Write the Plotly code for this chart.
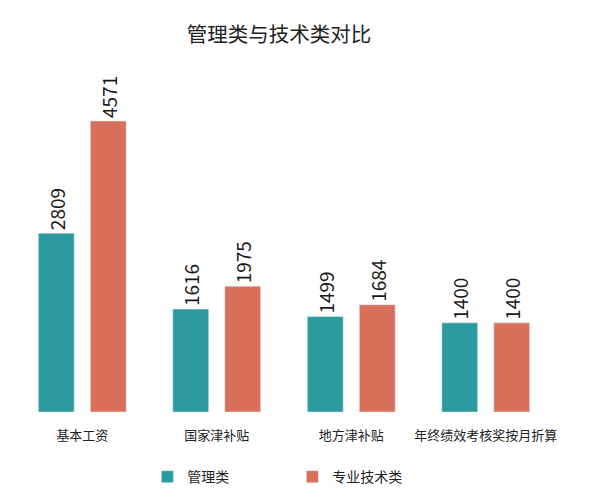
import plotly.graph_objects as go

categories = ["基本工资", "国家津补贴", "地方津补贴", "年终绩效考核奖按月折算"]
series_names = ["管理类", "专业技术类"]
management = [2809, 1616, 1499, 1400]
technical = [4571, 1975, 1684, 1400]
colors = ["#2b9ba0", "#d8705b"]
FONT = "Noto Sans CJK SC"

fig = go.Figure()
for name, vals, col in zip(series_names, [management, technical], colors):
    fig.add_trace(go.Bar(
        x=categories, y=vals, name=name, marker_color=col,
        text=[str(v) for v in vals], textposition="outside", textangle=-90,
        constraintext="none",
        textfont=dict(size=19, color="#1a1a1a", family=FONT),
        cliponaxis=False,
    ))

fig.update_layout(
    width=600, height=500,
    margin=dict(l=15, r=47, t=80, b=88, autoexpand=False),
    paper_bgcolor="white", plot_bgcolor="white",
    barmode="group", bargap=0.227, bargroupgap=0.31,
    title=dict(text="管理类与技术类对比", x=0.465, xanchor="center", y=0.93, yanchor="middle",
               font=dict(size=20.5, color="#222", family=FONT)),
    font=dict(family=FONT, color="#222"),
    xaxis=dict(showgrid=False, showline=False, zeroline=False, ticks="",
               ticklabelstandoff=14,
               tickfont=dict(size=13, color="#222")),
    yaxis=dict(visible=False, range=[0, 5215]),
    legend=dict(orientation="h", x=0.246, xanchor="left", y=-0.196, yanchor="middle",
                entrywidth=100, entrywidthmode="pixels",
                font=dict(size=14, color="#222")),
    showlegend=True,
)

fig.write_html("out.html")
